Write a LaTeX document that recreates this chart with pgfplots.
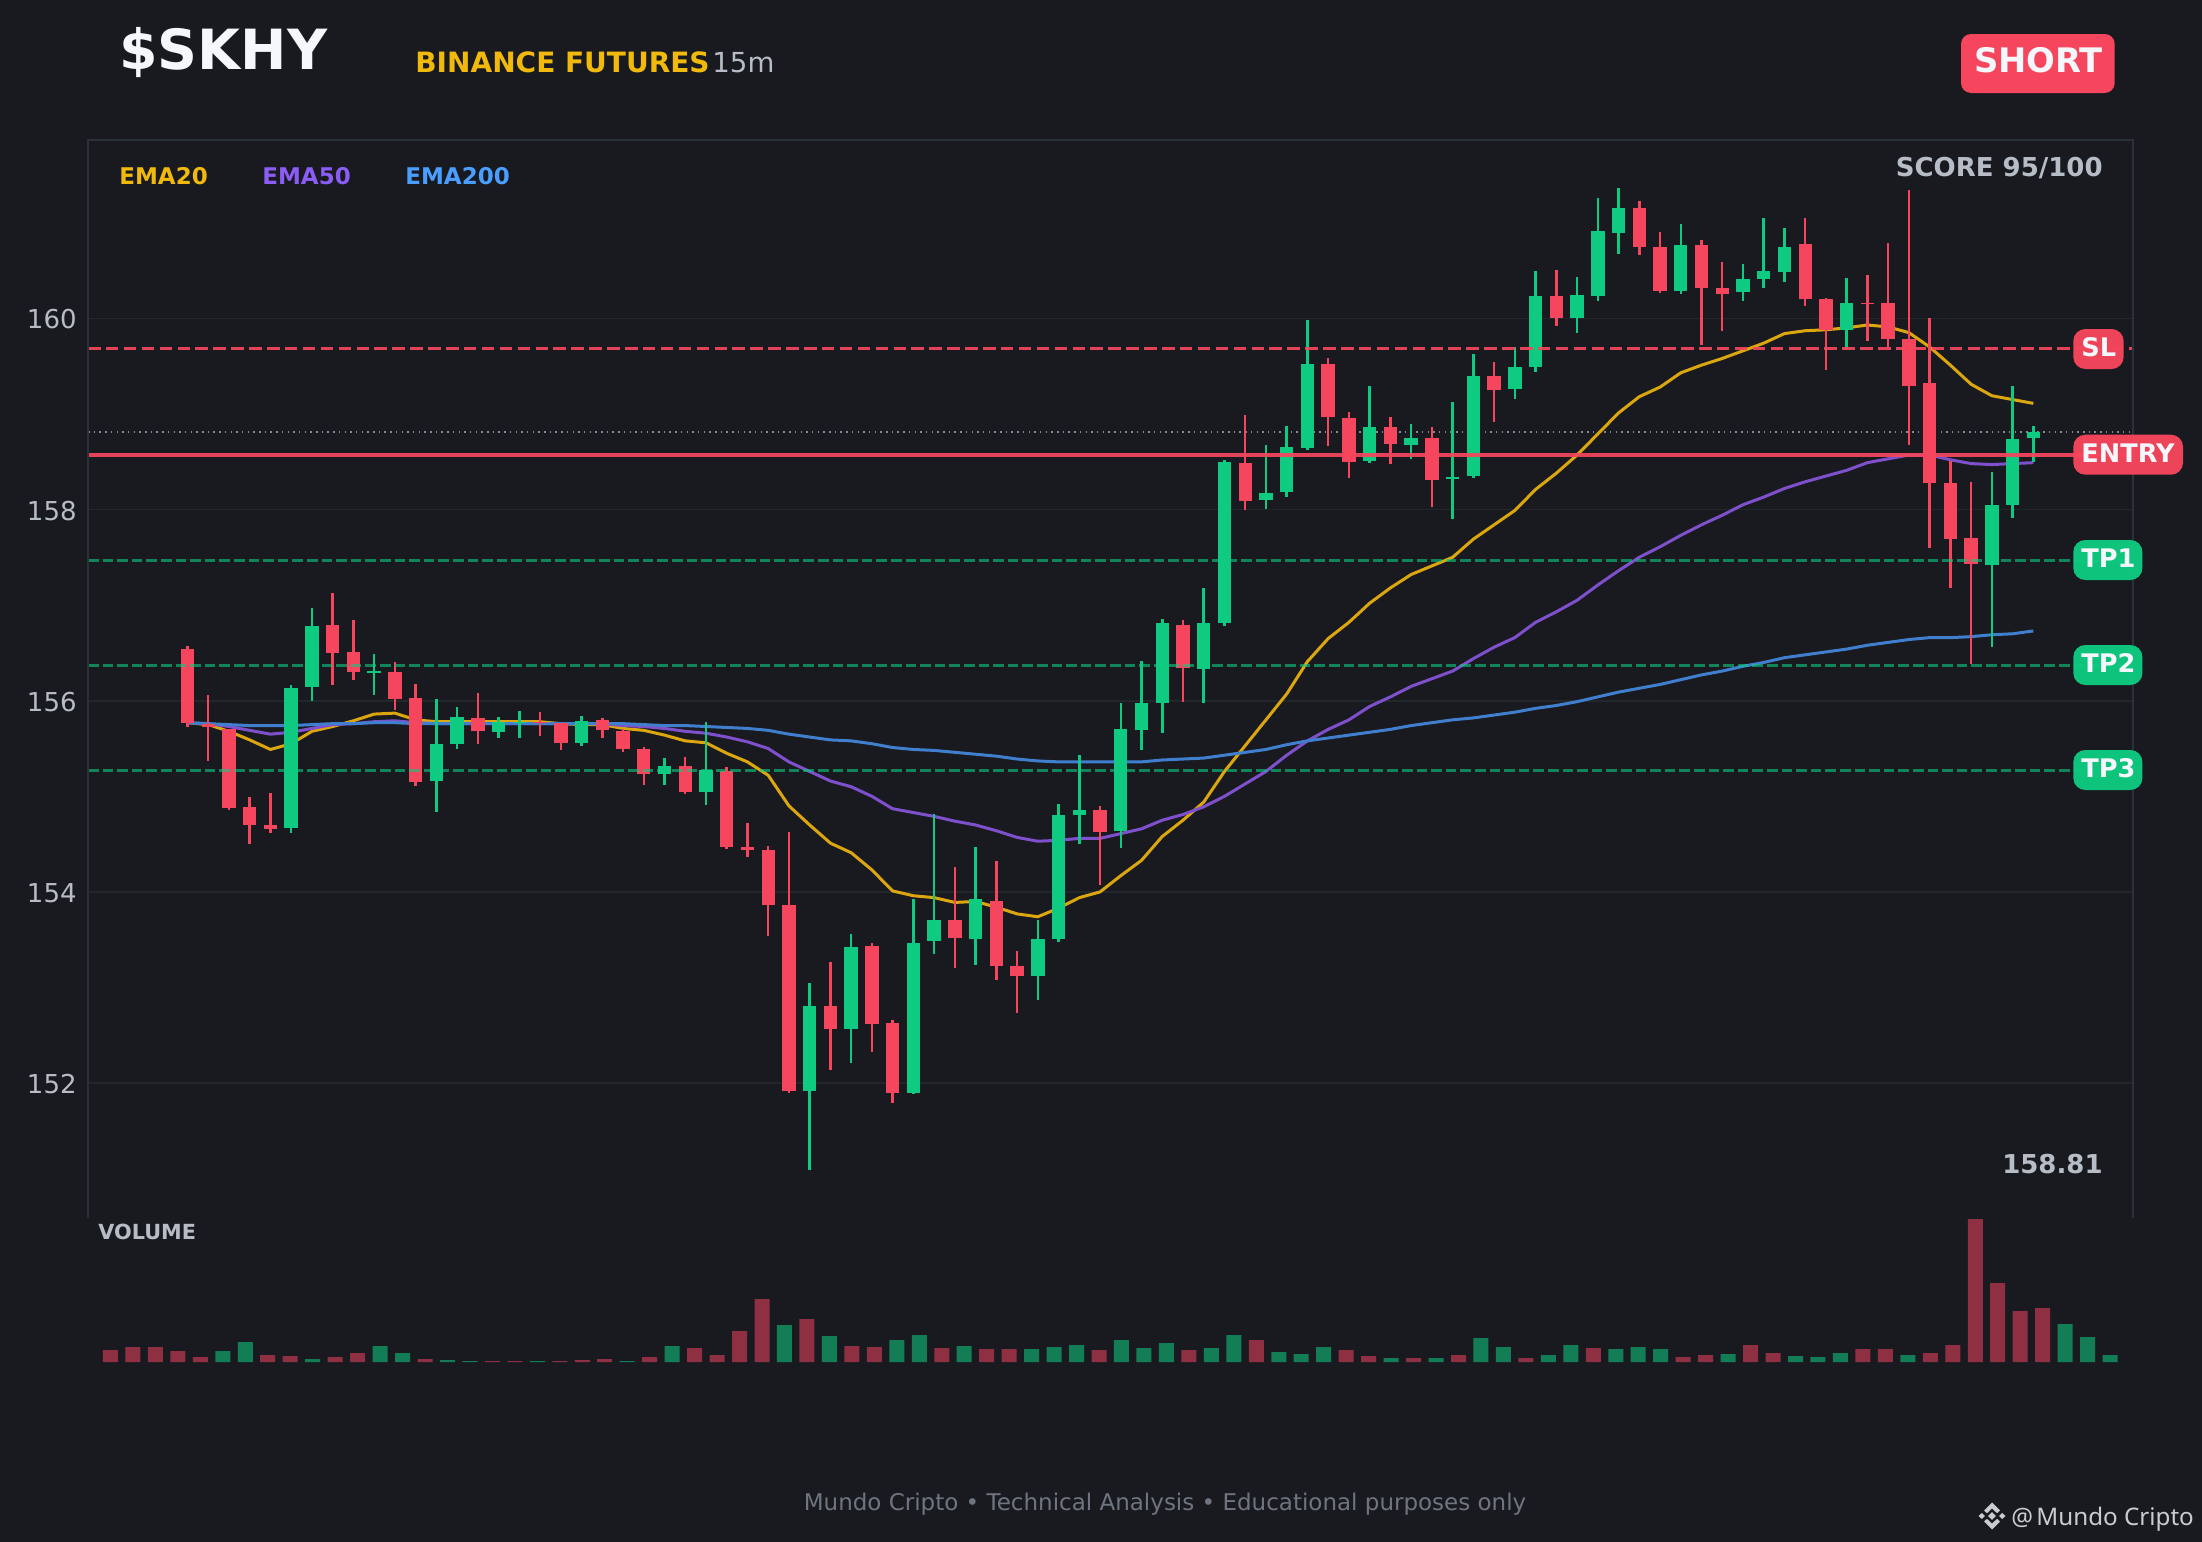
\documentclass[border=0pt]{standalone}
\usepackage{pgfplots}
\usepackage{pgfplotstable}
\pgfplotsset{compat=1.18}
\usepackage{fontspec}
\setmainfont{DejaVu Sans}
\newfontfamily\noto{Noto Sans}
\definecolor{bg}{HTML}{181A20}
\definecolor{spine}{HTML}{2B3139}
\definecolor{gridc}{HTML}{22272C}
\definecolor{cred}{HTML}{F6465D}
\definecolor{cgreen}{HTML}{0ECB81}
\definecolor{vred}{HTML}{8F3042}
\definecolor{vgreen}{HTML}{137D56}
\definecolor{gold}{HTML}{F0B90B}
\definecolor{purp}{HTML}{8B5CF6}
\definecolor{sky}{HTML}{4A9EFF}
\definecolor{e20}{HTML}{DCA60F}
\definecolor{e50}{HTML}{7E50CC}
\definecolor{e200}{HTML}{3F7FCE}
\definecolor{txt}{HTML}{B7BDC6}
\definecolor{wht}{HTML}{F5F7FA}
\definecolor{foot}{HTML}{6E7580}
\definecolor{wm}{HTML}{C8CCCF}
\pgfplotstableread{
i o h l c v
0 156.54 156.57 155.72 155.77 36
1 155.76 156.06 155.37 155.72 45
2 155.70 155.70 154.86 154.88 45
3 154.89 154.99 154.50 154.70 33
4 154.70 155.03 154.62 154.66 15
7 156.79 157.13 156.16 156.50 21
8 156.51 156.84 156.22 156.30 18
10 156.30 156.40 155.90 156.02 15
11 156.03 156.17 155.11 155.15 27
14 155.82 156.08 155.55 155.68 9
17 155.78 155.88 155.63 155.77 3
18 155.77 155.77 155.48 155.56 3
20 155.80 155.82 155.61 155.69 3
21 155.68 155.70 155.46 155.50 6
22 155.50 155.52 155.12 155.23 9
24 155.32 155.41 155.02 155.05 15
26 155.27 155.31 154.45 154.47 42
27 154.47 154.72 154.36 154.44 21
28 154.44 154.48 153.54 153.86 93
29 153.86 154.63 151.90 151.92 189
31 152.81 153.27 152.14 152.57 129
33 153.43 153.47 152.33 152.62 48
34 152.63 152.66 151.79 151.90 45
37 153.71 154.26 153.20 153.52 42
39 153.91 154.32 153.08 153.23 39
40 153.23 153.38 152.73 153.12 39
44 154.86 154.90 154.07 154.63 36
48 156.79 156.84 155.99 156.34 36
51 158.49 158.99 157.99 158.09 66
55 159.52 159.58 158.66 158.97 36
56 158.96 159.02 158.33 158.50 18
58 158.86 158.97 158.48 158.68 12
60 158.75 158.86 158.03 158.31 21
63 159.40 159.54 158.92 159.25 12
66 160.23 160.51 159.92 160.00 42
70 161.15 161.23 160.66 160.75 15
71 160.75 160.90 160.26 160.29 21
73 160.77 160.82 159.72 160.32 51
74 160.32 160.59 159.87 160.25 27
78 160.78 161.05 160.13 160.20 39
79 160.20 160.21 159.46 159.88 39
81 160.16 160.45 159.76 160.15 27
82 160.16 160.79 159.67 159.78 51
83 159.78 161.34 158.67 159.29 429
84 159.32 160.00 157.60 158.28 237
85 158.28 158.51 157.18 157.69 153
86 157.70 158.29 156.38 157.43 162
}\redc
\pgfplotstableread{
i o h l c v
5 154.67 156.16 154.62 156.13 33
6 156.14 156.97 156.00 156.78 60
9 156.29 156.49 156.06 156.31 9
12 155.16 156.02 154.84 155.55 48
13 155.55 155.93 155.49 155.83 27
15 155.67 155.83 155.61 155.78 6
16 155.77 155.89 155.61 155.78 3
19 155.56 155.84 155.53 155.79 3
23 155.23 155.40 155.12 155.32 3
25 155.05 155.78 154.91 155.28 48
30 151.92 153.05 151.09 152.81 111
32 152.57 153.56 152.21 153.42 78
35 151.90 153.93 151.89 153.47 66
36 153.49 154.82 153.35 153.71 81
38 153.51 154.47 153.24 153.93 48
41 153.12 153.71 152.87 153.51 39
42 153.51 154.92 153.48 154.80 45
43 154.80 155.43 154.50 154.86 51
45 154.64 155.98 154.46 155.70 66
46 155.69 156.42 155.48 155.98 42
47 155.98 156.85 155.66 156.81 57
49 156.33 157.18 155.98 156.81 42
50 156.81 158.52 156.78 158.50 81
52 158.10 158.67 158.01 158.17 30
53 158.18 158.87 158.13 158.65 24
54 158.64 159.98 158.62 159.52 45
57 158.51 159.29 158.49 158.86 12
59 158.67 158.89 158.53 158.75 12
61 158.32 159.12 157.90 158.34 72
62 158.35 159.63 158.33 159.40 45
64 159.26 159.70 159.16 159.49 21
65 159.49 160.49 159.44 160.23 51
67 160.00 160.43 159.85 160.24 39
68 160.23 161.26 160.18 160.91 45
69 160.89 161.36 160.67 161.15 39
72 160.29 160.99 160.25 160.77 24
75 160.27 160.57 160.18 160.41 18
76 160.41 161.05 160.32 160.49 15
77 160.48 160.94 160.38 160.75 27
80 159.88 160.42 159.67 160.16 21
87 157.42 158.39 156.56 158.05 114
88 158.05 159.29 157.91 158.74 75
89 158.75 158.87 158.50 158.81 21
}\greenc
\pgfplotstableread{
i a b c
0 155.77 155.77 155.77
1 155.75 155.76 155.76
2 155.68 155.73 155.75
3 155.59 155.69 155.74
4 155.49 155.65 155.74
5 155.55 155.67 155.74
6 155.68 155.71 155.75
7 155.73 155.75 155.76
8 155.79 155.76 155.76
9 155.86 155.78 155.77
10 155.87 155.79 155.77
11 155.80 155.77 155.76
12 155.78 155.76 155.76
13 155.78 155.76 155.76
14 155.78 155.76 155.76
15 155.78 155.76 155.76
16 155.78 155.76 155.76
17 155.78 155.76 155.76
18 155.76 155.76 155.76
19 155.75 155.76 155.76
20 155.75 155.76 155.76
21 155.71 155.74 155.76
22 155.69 155.73 155.75
23 155.64 155.71 155.74
24 155.58 155.68 155.74
25 155.56 155.66 155.73
26 155.45 155.62 155.72
27 155.36 155.57 155.71
28 155.22 155.50 155.69
29 154.90 155.36 155.65
30 154.70 155.26 155.62
31 154.51 155.16 155.59
32 154.41 155.10 155.58
33 154.23 155.00 155.55
34 154.01 154.87 155.51
35 153.96 154.83 155.49
36 153.94 154.79 155.48
37 153.89 154.74 155.46
38 153.90 154.70 155.44
39 153.84 154.64 155.42
40 153.77 154.57 155.39
41 153.74 154.53 155.37
42 153.83 154.54 155.36
43 153.94 154.56 155.36
44 154.00 154.56 155.36
45 154.17 154.61 155.36
46 154.33 154.66 155.36
47 154.58 154.75 155.38
48 154.75 154.81 155.39
49 154.94 154.89 155.40
50 155.26 155.00 155.43
51 155.53 155.13 155.46
52 155.80 155.26 155.49
53 156.07 155.43 155.54
54 156.41 155.58 155.58
55 156.65 155.70 155.61
56 156.82 155.80 155.64
57 157.02 155.94 155.67
58 157.18 156.04 155.70
59 157.32 156.15 155.74
60 157.41 156.23 155.77
61 157.50 156.31 155.80
62 157.69 156.44 155.82
63 157.84 156.56 155.85
64 157.99 156.66 155.88
65 158.21 156.82 155.92
66 158.38 156.93 155.95
67 158.57 157.05 155.99
68 158.79 157.21 156.04
69 159.01 157.36 156.09
70 159.18 157.50 156.13
71 159.28 157.61 156.17
72 159.43 157.73 156.22
73 159.51 157.84 156.27
74 159.58 157.94 156.31
75 159.66 158.05 156.36
76 159.74 158.13 156.40
77 159.84 158.22 156.45
78 159.87 158.29 156.48
79 159.88 158.35 156.51
80 159.90 158.41 156.54
81 159.93 158.49 156.58
82 159.91 158.53 156.61
83 159.85 158.57 156.64
84 159.70 158.57 156.66
85 159.51 158.52 156.66
86 159.31 158.48 156.67
87 159.19 158.47 156.69
88 159.15 158.48 156.70
89 159.11 158.49 156.73
}\emas
\newcommand{\fs}[1]{\fontsize{#1}{#1}\selectfont}
\newcommand{\cand}[7]{% table, y, plus, minus, colour, width
  \addplot[draw=none,mark=none,forget plot,error bars/.cd,y dir=both,y explicit,error mark=none,
    error bar style={solid,line width=#6,color=#5}]
    table[x=i,y=#2,y error plus expr=#3,y error minus expr=#4]{#1};}
\newcommand{\badge}[5]{% y top, x right, colour, text
  \fill[#3,opacity=.96,rounded corners=6] (2073.3,#1) rectangle (#2,#1+40);
  \node[anchor=base west,inner sep=0,text=wht,font=\bfseries\fs{12.8}] at (2081,#1+27.5) {#4};}
\begin{document}
\begin{tikzpicture}[x=0.5pt,y=-0.5pt]
\fill[bg] (0,0) rectangle (2202,1542);
\begin{axis}[
  at={(44pt,-609pt)},anchor=south west,scale only axis,
  width=1022.25pt,height=539pt,
  xmin=-4.797,xmax=93.78,ymin=150.589,ymax=161.865,
  xtick=\empty,ytick={152,154,156,158,160},
  major tick length=0pt,
  axis line style={draw=none},
  ymajorgrids,grid style={gridc,line width=.8pt},
  /pgf/number format/assume math mode=true,
  yticklabel style={font=\fs{13},text=txt,inner sep=0pt,xshift=-5.5pt,yshift=-.6pt},
]
\addplot[foot!85!white,line width=.7pt,dash pattern=on .75pt off 2.1pt,forget plot] coordinates {(-4.797,158.81) (93.78,158.81)};
\addplot[e20,line width=1.5pt,forget plot] table[x=i,y=a]{\emas};
\addplot[e50,line width=1.5pt,forget plot] table[x=i,y=b]{\emas};
\addplot[e200,line width=1.5pt,forget plot] table[x=i,y=c]{\emas};
% wicks
\cand{\redc}{c}{\thisrow{h}-\thisrow{c}}{\thisrow{c}-\thisrow{l}}{cred}{1.25pt}{}
\cand{\greenc}{c}{\thisrow{h}-\thisrow{c}}{\thisrow{c}-\thisrow{l}}{cgreen}{1.25pt}{}
% bodies
\cand{\redc}{c}{\thisrow{o}-\thisrow{c}}{0}{cred}{6.7pt}{}
\cand{\greenc}{o}{\thisrow{c}-\thisrow{o}}{0}{cgreen}{6.7pt}{}
% levels
\addplot[cred,opacity=.92,line width=1.5pt,dash pattern=on 6.25pt off 2.7pt,forget plot] coordinates {(-4.797,159.68) (93.78,159.68)};
\addplot[cgreen,opacity=.6,line width=1.5pt,dash pattern=on 5.3pt off 2pt,forget plot] coordinates {(-4.797,157.47) (93.78,157.47)};
\addplot[cgreen,opacity=.6,line width=1.5pt,dash pattern=on 5.3pt off 2pt,forget plot] coordinates {(-4.797,156.37) (93.78,156.37)};
\addplot[cgreen,opacity=.6,line width=1.5pt,dash pattern=on 5.3pt off 2pt,forget plot] coordinates {(-4.797,155.27) (93.78,155.27)};
\addplot[cred,opacity=.92,line width=2.3pt,forget plot] coordinates {(-4.797,158.57) (93.78,158.57)};
\end{axis}
\begin{axis}[
  at={(44pt,-681pt)},anchor=south west,scale only axis,
  width=1022.25pt,height=72pt,
  xmin=-1,xmax=90,ymin=0,ymax=432,
  hide axis,
]
\addplot[ybar,bar width=7.5pt,bar shift=0pt,fill=vred,draw=none,forget plot] table[x=i,y=v]{\redc};
\addplot[ybar,bar width=7.5pt,bar shift=0pt,fill=vgreen,draw=none,forget plot] table[x=i,y=v]{\greenc};
\end{axis}
\draw[spine,line width=1pt] (88,1218)--(88,140)--(2133,140)--(2133,1218);
% header
\node[anchor=base west,inner sep=0,text=wht,font=\bfseries\fs{27.7}] at (119,69.5) {\$SKHY};
\node[anchor=base west,inner sep=0,text=gold,font=\bfseries\fs{14}] at (415,72) {BINANCE FUTURES};
\node[anchor=base west,inner sep=0,text=txt,font=\fs{13.8}] at (712,72) {15m};
\fill[cred,rounded corners=5] (1961,34) rectangle (2114.7,93);
\node[anchor=base,inner sep=0,text=wht,font=\bfseries\fs{16.9}] at (2038.5,72.8) {SHORT};
% legend
\node[anchor=base west,inner sep=0,text=gold,font=\bfseries\fs{11.5}] at (119,184) {EMA20};
\node[anchor=base west,inner sep=0,text=purp,font=\bfseries\fs{11.5}] at (262,184) {EMA50};
\node[anchor=base west,inner sep=0,text=sky,font=\bfseries\fs{11.5}] at (405,184) {EMA200};
\node[anchor=base east,inner sep=0,text=txt,font=\bfseries\fs{13}] at (2103,176.3) {SCORE 95/100};
\node[anchor=base east,inner sep=0,text=txt,font=\bfseries\fs{13}] at (2103,1173.5) {158.81};
\node[anchor=base west,inner sep=0,text=txt,font=\bfseries\fs{10.4}] at (98,1239) {VOLUME};
% level badges
\badge{329}{2123.6}{cred}{SL}{}
\badge{434.7}{2183}{cred}{ENTRY}{}
\badge{540}{2142.4}{cgreen}{TP1}{}
\badge{645}{2142.4}{cgreen}{TP2}{}
\badge{750}{2142.4}{cgreen}{TP3}{}
% footer
\node[anchor=base,inner sep=0,text=foot,font=\fs{11.5}] at (1165,1510) {Mundo Cripto • Technical Analysis • Educational purposes only};
\begin{scope}[shift={(1992,1516)},wm]
\fill (0,-3.8)--(3.8,0)--(0,3.8)--(-3.8,0)--cycle;
\fill (-10.2,-3)--(-7.2,0)--(-10.2,3)--(-13.5,0)--cycle;
\fill (10.2,-3)--(13.5,0)--(10.2,3)--(7.2,0)--cycle;
\fill (0,-13.5)--(8,-5.5)--(5,-2.8)--(0,-7.6)--(-5,-2.8)--(-8,-5.5)--cycle;
\fill (0,13.5)--(8,5.5)--(5,2.8)--(0,7.6)--(-5,2.8)--(-8,5.5)--cycle;
\end{scope}
\node[anchor=base west,inner sep=0,text=wm,font=\noto\fs{12.1}] at (2011,1525) {@};
\node[anchor=base west,inner sep=0,text=wm,font=\noto\fs{12.1}] at (2036,1525) {Mundo Cripto};
\end{tikzpicture}
\end{document}
